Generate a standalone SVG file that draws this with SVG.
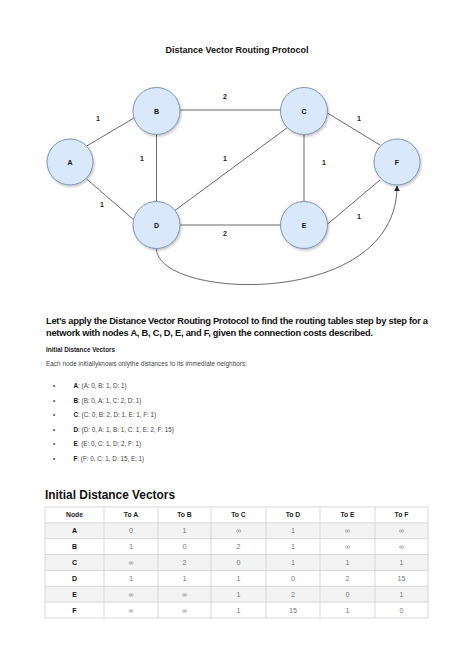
<svg xmlns="http://www.w3.org/2000/svg" width="474" height="669" viewBox="0 0 474 669">
<style>
text{font-family:"Liberation Sans",Arial,sans-serif}
.node circle{fill:#dae8fc;stroke:#7f93b3;stroke-width:1;filter:url(#sh)}
.nl{font-size:7px;font-weight:bold;text-anchor:middle;fill:#111}
.el{font-size:7px;font-weight:bold;text-anchor:middle;fill:#222}
.edge{stroke:#444;stroke-width:0.8;fill:none}
.title{font-size:9px;font-weight:bold;text-anchor:middle;fill:#111}
.para{font-size:9.3px;font-weight:bold;fill:#111}
.h6{font-size:6.3px;font-weight:bold;fill:#222}
.body{font-size:6.3px;fill:#444}
.bul{font-size:6.3px;fill:#444}
.bul tspan.b{font-weight:bold;fill:#111}
.th{font-size:6.8px;font-weight:bold;text-anchor:middle;fill:#222}
.tl{font-size:7px;font-weight:bold;text-anchor:middle;fill:#111}
.td{font-size:7.2px;text-anchor:middle;fill:#777}
.grid{stroke:#cfcfcf;stroke-width:0.8;fill:none}
</style>
<defs>
<filter id="sh" x="-20%" y="-20%" width="150%" height="150%">
<feDropShadow dx="1" dy="1.5" stdDeviation="0.8" flood-color="#000" flood-opacity="0.25"/>
</filter>
<marker id="arr" viewBox="0 0 10 10" refX="9" refY="5" markerWidth="6" markerHeight="6" orient="auto" markerUnits="userSpaceOnUse">
<path d="M0,0 L10,5 L0,10 z" fill="#222"/>
</marker>
</defs>
<rect width="474" height="669" fill="#fff"/>
<text class="title" x="237" y="53">Distance Vector Routing Protocol</text>

<g id="connectors">
<line class="edge" x1="86.7" y1="146" x2="134" y2="118"/>
<line class="edge" x1="86.7" y1="179" x2="134" y2="220"/>
<line class="edge" x1="180" y1="110" x2="281" y2="110"/>
<line class="edge" x1="156.5" y1="134.5" x2="156.5" y2="201.5"/>
<line class="edge" x1="287.5" y1="127.5" x2="173.5" y2="211.5"/>
<line class="edge" x1="304" y1="134.5" x2="304" y2="201.5"/>
<line class="edge" x1="326.5" y1="112.5" x2="380" y2="145"/>
<line class="edge" x1="180" y1="225" x2="281" y2="225"/>
<line class="edge" x1="326.5" y1="225" x2="380" y2="180"/>
<path class="edge" d="M156.5,248.5 C156.5,300 397,310 397,186" marker-end="url(#arr)"/>
<text class="el" x="98" y="120.5">1</text>
<text class="el" x="225" y="98.5">2</text>
<text class="el" x="359" y="120.5">1</text>
<text class="el" x="142" y="160.5">1</text>
<text class="el" x="225" y="160.5">1</text>
<text class="el" x="324" y="164.5">1</text>
<text class="el" x="102" y="206.5">1</text>
<text class="el" x="359" y="218.5">1</text>
<text class="el" x="225" y="235.5">2</text>
</g>

<g id="A" class="node"><circle cx="70" cy="162" r="23"/><text class="nl" x="70" y="164.5">A</text></g>
<g id="B" class="node"><circle cx="156.5" cy="111" r="23.5"/><text class="nl" x="156.5" y="113.5">B</text></g>
<g id="C" class="node"><circle cx="304" cy="111" r="23.5"/><text class="nl" x="304" y="113.5">C</text></g>
<g id="D" class="node"><circle cx="156.5" cy="225" r="23.5"/><text class="nl" x="156.5" y="227.5">D</text></g>
<g id="E" class="node"><circle cx="304" cy="225" r="23.5"/><text class="nl" x="304" y="227.5">E</text></g>
<g id="F" class="node"><circle cx="397" cy="162" r="23"/><text class="nl" x="397" y="164.5">F</text></g>

<text class="para" x="46" y="324" textLength="382" lengthAdjust="spacing">Let's apply the Distance Vector Routing Protocol to find the routing tables step by step for a</text>
<text class="para" x="46" y="335.5" textLength="327" lengthAdjust="spacing">network with nodes A, B, C, D, E, and F, given the connection costs described.</text>
<text class="h6" x="46" y="351.5">Initial Distance Vectors</text>
<text class="body" x="46" y="365.5" textLength="201" lengthAdjust="spacing">Each node initiallyknows onlythe distances to its immediate neighbors:</text>

<g id="bullets">
<text class="bul" x="53" y="388">•</text><text class="bul" x="73.5" y="388"><tspan class="b">A</tspan>: (A: 0, B: 1, D: 1)</text>
<text class="bul" x="53" y="402.5">•</text><text class="bul" x="73.5" y="402.5"><tspan class="b">B</tspan>: (B: 0, A: 1, C: 2, D: 1)</text>
<text class="bul" x="53" y="417">•</text><text class="bul" x="73.5" y="417"><tspan class="b">C</tspan>: (C: 0, B: 2, D: 1, E: 1, F: 1)</text>
<text class="bul" x="53" y="431.5">•</text><text class="bul" x="73.5" y="431.5"><tspan class="b">D</tspan>: (D: 0, A: 1, B: 1, C: 1, E: 2, F: 15)</text>
<text class="bul" x="53" y="446">•</text><text class="bul" x="73.5" y="446"><tspan class="b">E</tspan>: (E: 0, C: 1, D: 2, F: 1)</text>
<text class="bul" x="53" y="460.5">•</text><text class="bul" x="73.5" y="460.5"><tspan class="b">F</tspan>: (F: 0, C: 1, D: 15, E: 1)</text>
</g>

<text x="45" y="499" font-size="12" font-weight="bold" fill="#111" textLength="130" lengthAdjust="spacingAndGlyphs">Initial Distance Vectors</text>

<g id="table">
<rect x="45" y="522.85" width="383" height="15.85" fill="#f3f3f3"/>
<rect x="45" y="554.55" width="383" height="15.85" fill="#f3f3f3"/>
<rect x="45" y="586.25" width="383" height="15.85" fill="#f3f3f3"/>
<rect class="grid" x="45" y="507" width="383" height="110.95"/>
<path class="grid" d="M45,522.85H428M45,538.7H428M45,554.55H428M45,570.4H428M45,586.25H428M45,602.1H428M104,507V617.95M158,507V617.95M211,507V617.95M266,507V617.95M320,507V617.95M375,507V617.95"/>
<text class="th" x="74.5" y="517.4">Node</text>
<text class="th" x="131" y="517.4">To A</text>
<text class="th" x="184.5" y="517.4">To B</text>
<text class="th" x="238.5" y="517.4">To C</text>
<text class="th" x="293" y="517.4">To D</text>
<text class="th" x="347.5" y="517.4">To E</text>
<text class="th" x="401.5" y="517.4">To F</text>

<text class="tl" x="74.5" y="533.3">A</text>
<text class="td" x="131" y="533.3">0</text><text class="td" x="184.5" y="533.3">1</text><text class="td" x="238.5" y="533.3">∞</text><text class="td" x="293" y="533.3">1</text><text class="td" x="347.5" y="533.3">∞</text><text class="td" x="401.5" y="533.3">∞</text>

<text class="tl" x="74.5" y="549.1">B</text>
<text class="td" x="131" y="549.1">1</text><text class="td" x="184.5" y="549.1">0</text><text class="td" x="238.5" y="549.1">2</text><text class="td" x="293" y="549.1">1</text><text class="td" x="347.5" y="549.1">∞</text><text class="td" x="401.5" y="549.1">∞</text>

<text class="tl" x="74.5" y="565">C</text>
<text class="td" x="131" y="565">∞</text><text class="td" x="184.5" y="565">2</text><text class="td" x="238.5" y="565">0</text><text class="td" x="293" y="565">1</text><text class="td" x="347.5" y="565">1</text><text class="td" x="401.5" y="565">1</text>

<text class="tl" x="74.5" y="580.8">D</text>
<text class="td" x="131" y="580.8">1</text><text class="td" x="184.5" y="580.8">1</text><text class="td" x="238.5" y="580.8">1</text><text class="td" x="293" y="580.8">0</text><text class="td" x="347.5" y="580.8">2</text><text class="td" x="401.5" y="580.8">15</text>

<text class="tl" x="74.5" y="596.7">E</text>
<text class="td" x="131" y="596.7">∞</text><text class="td" x="184.5" y="596.7">∞</text><text class="td" x="238.5" y="596.7">1</text><text class="td" x="293" y="596.7">2</text><text class="td" x="347.5" y="596.7">0</text><text class="td" x="401.5" y="596.7">1</text>

<text class="tl" x="74.5" y="612.5">F</text>
<text class="td" x="131" y="612.5">∞</text><text class="td" x="184.5" y="612.5">∞</text><text class="td" x="238.5" y="612.5">1</text><text class="td" x="293" y="612.5">15</text><text class="td" x="347.5" y="612.5">1</text><text class="td" x="401.5" y="612.5">0</text>
</g>
</svg>
